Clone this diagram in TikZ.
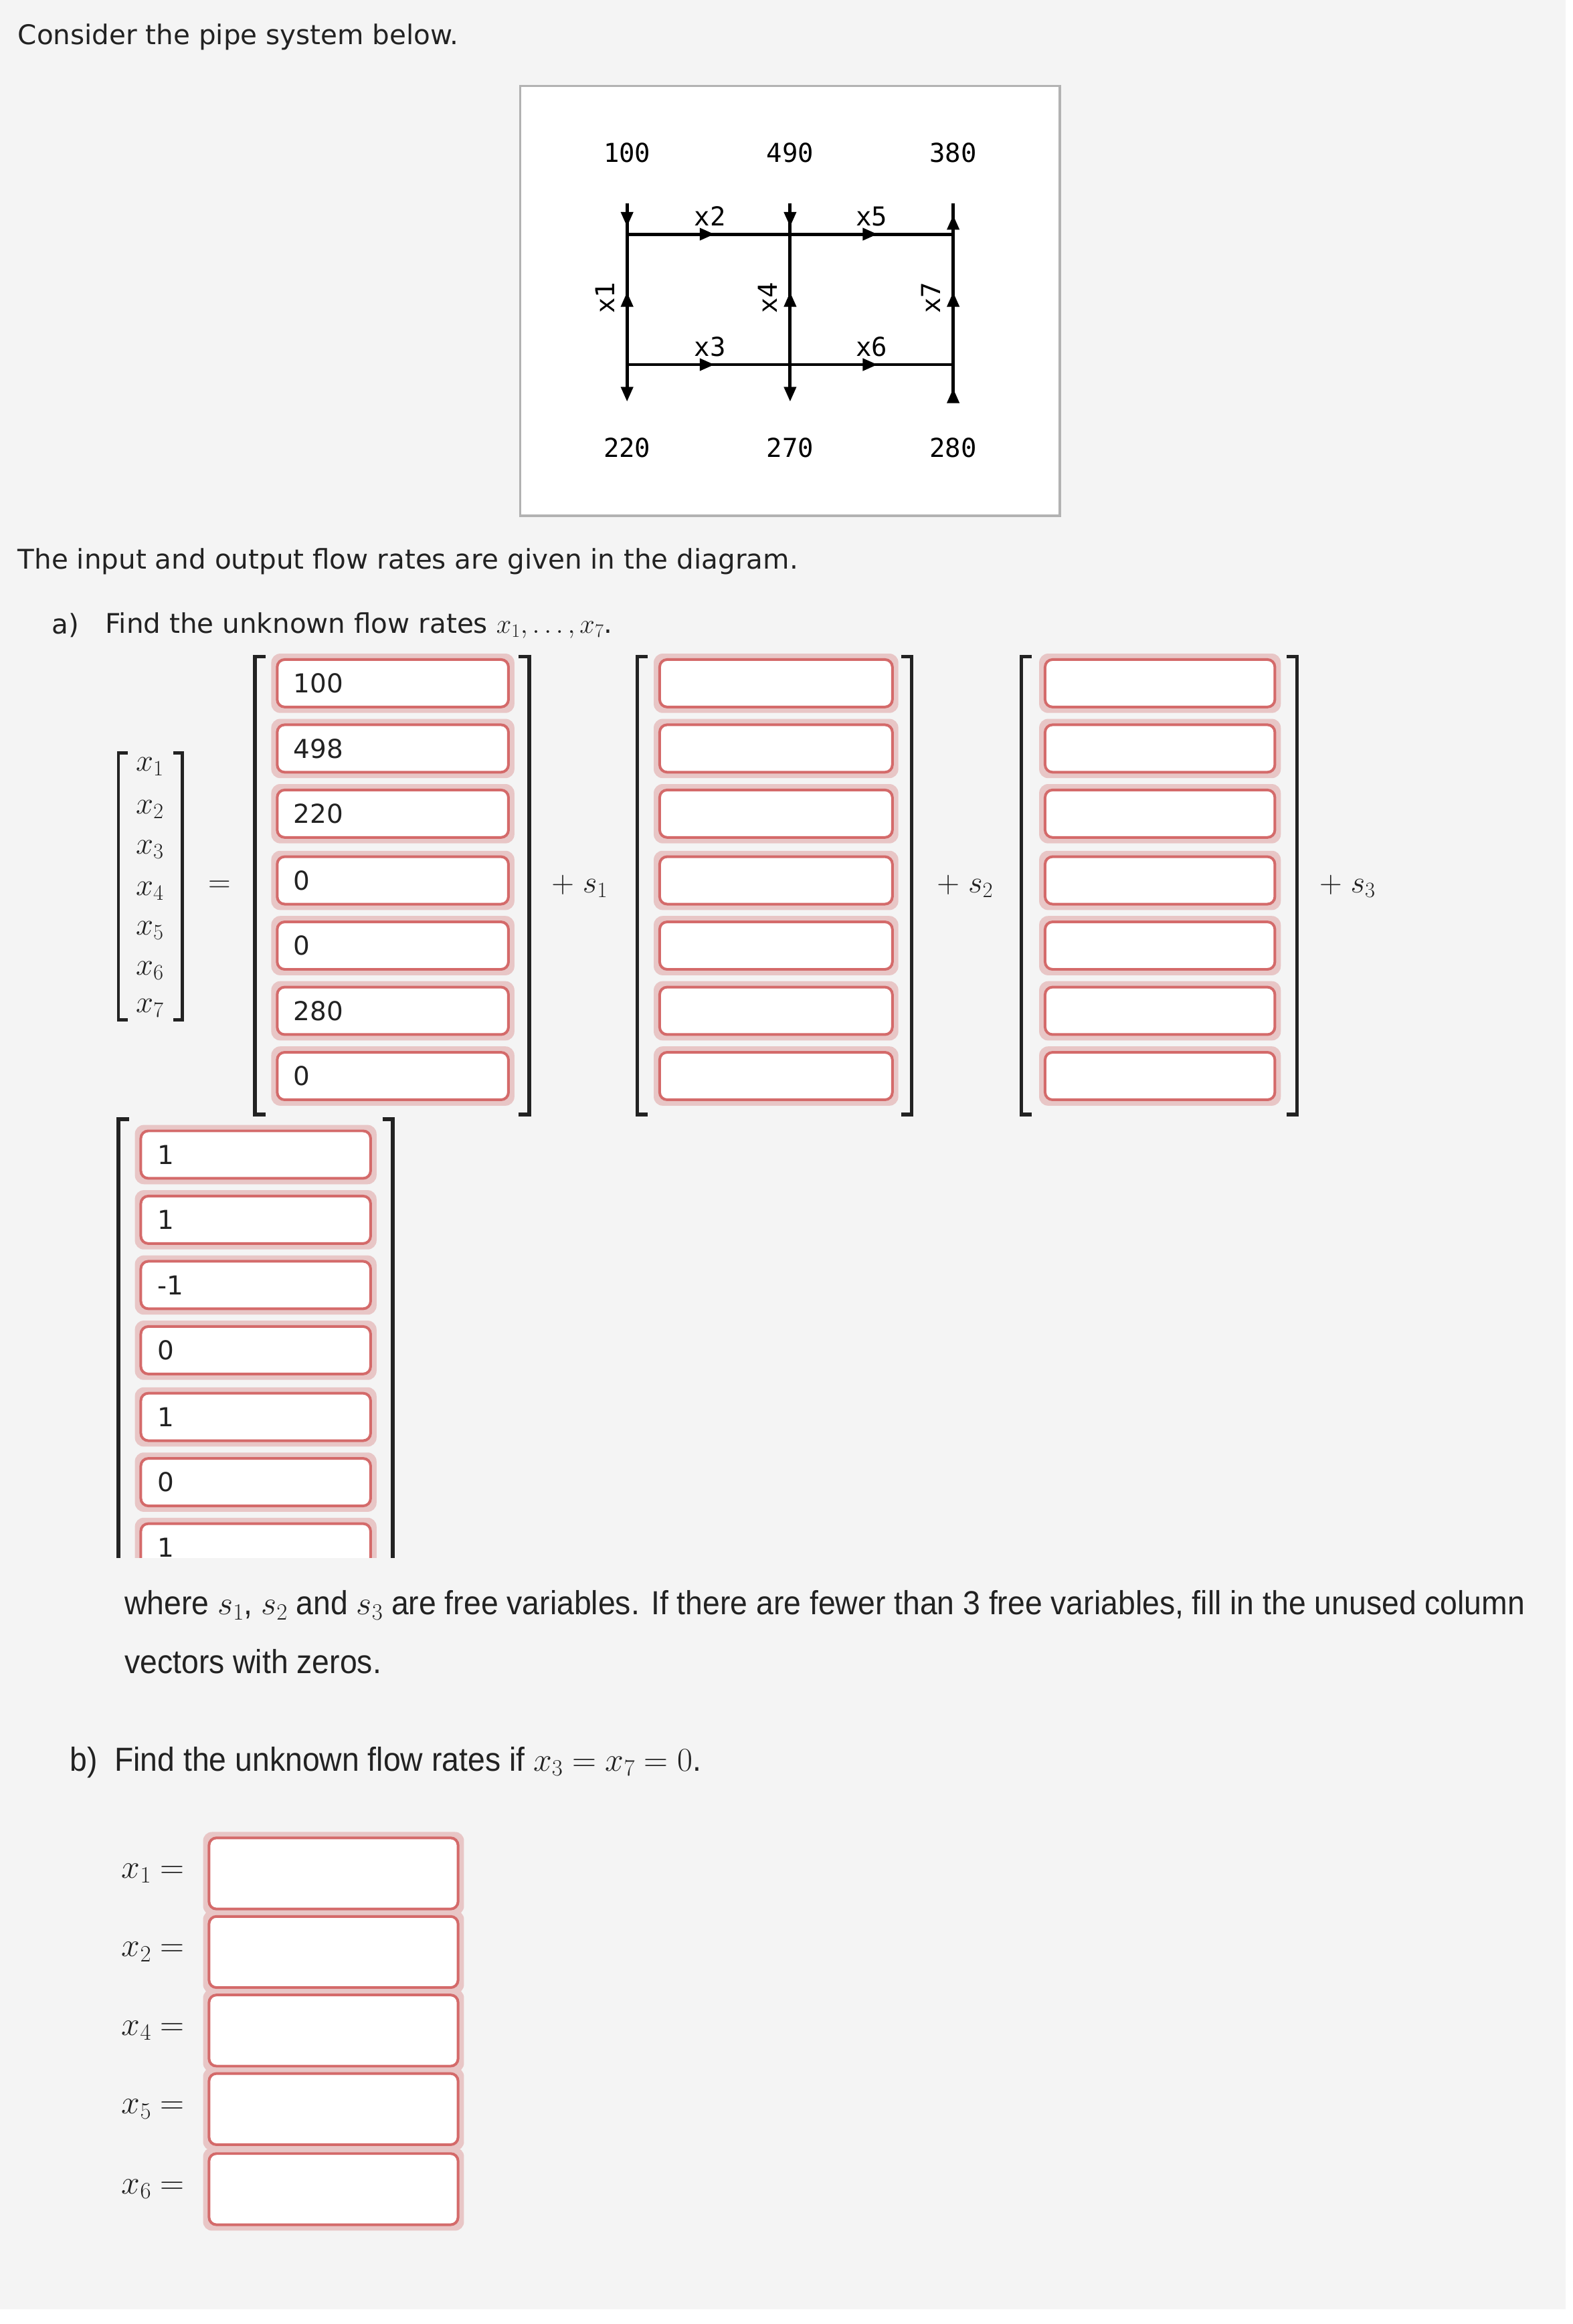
\RequirePackage{fix-cm}
\documentclass[tikz,border=0pt]{standalone}
\usepackage{fontspec}
\setmainfont{DejaVu Sans}
\newfontfamily\monof{DejaVu Sans Mono}
\newfontfamily\narrowf[FakeStretch=0.93]{Liberation Sans}
\usetikzlibrary{arrows.meta}
\definecolor{bg}{HTML}{F4F4F4}
\definecolor{glow}{HTML}{E8C6C6}
\definecolor{redb}{HTML}{D46A6A}
\definecolor{txt}{HTML}{222222}
\tikzset{
  pipe/.style={line width=0.22cm},
  ah/.style={-{Triangle[length=1cm,width=0.8cm]},line width=0.22cm},
  brk/.style={line width=0.25cm,color=txt},
  tx/.style={font=\fontsize{52}{60}\selectfont,text=txt,anchor=west,inner sep=0},
  mono/.style={font=\monof\fontsize{50}{58}\selectfont,inner sep=0},
  low/.style={font=\narrowf\fontsize{64}{76}\selectfont,text=txt,anchor=west,inner sep=0},
  valtx/.style={font=\fontsize{50}{58}\selectfont,text=txt,anchor=west,inner sep=0},
  mth/.style={font=\fontsize{60}{68}\selectfont,inner sep=0,text=txt},
}
\newcommand{\ansbox}[5]{% x1 x2 yc halfh text
  \fill[glow,rounded corners=0.6cm] (#1-4,#3-#4-4) rectangle (#2+4,#3+#4+4);
  \draw[redb,fill=white,line width=0.18cm,rounded corners=0.5cm] (#1,#3-#4) rectangle (#2,#3+#4);
  \node[valtx] at (#1+11,#3) {#5};
}
\begin{document}
\begin{tikzpicture}[x=0.1cm,y=-0.1cm]
\useasboundingbox (0,0) rectangle (1061,1568);
\fill[bg] (0,0) rectangle (1061,1568);
\fill[white] (1056,0) rectangle (1061,1568);
\fill[white] (0,1558) rectangle (1061,1568);
\node[tx] (t1) at (12,25) {Consider the pipe system below.};
% diagram
\draw[gray!60,fill=white,line width=0.15cm] (351,58) rectangle (715,348);
\foreach \x/\t/\b in {423/100/220,533/490/270,643/380/280}{
  \node[mono] at (\x,103) {\t};
  \node[mono] at (\x,302) {\b};
  \draw[pipe] (\x,137) -- (\x,268);
}
\draw[pipe] (423,158) -- (643,158);
\draw[pipe] (423,246) -- (643,246);
\foreach \x in {423,533}{
  \draw[ah] (\x,140) -- (\x,153);
  \draw[ah] (\x,255) -- (\x,271);
}
\draw[ah] (643,160) -- (643,145);
\draw[ah] (643,268) -- (643,262);
\foreach \x in {423,533,643}{ \draw[ah] (\x,212) -- (\x,197); }
\foreach \x in {478,588}{
  \draw[ah] (\x-12,158) -- (\x+4,158);
  \draw[ah] (\x-12,246) -- (\x+4,246);
}
\node[mono] at (479,146) {x2};
\node[mono] at (588,146) {x5};
\node[mono] at (479,234) {x3};
\node[mono] at (588,234) {x6};
\node[mono,rotate=90] at (408,201) {x1};
\node[mono,rotate=90] at (518,201) {x4};
\node[mono,rotate=90] at (628,201) {x7};
\node[tx] at (12,379) {The input and output flow rates are given in the diagram.};
\node[tx] at (35,422) {a)};
\node[tx] at (71,422) {Find the unknown flow rates $x_1,\ldots,x_7$.};
% lhs vector
\draw[line width=0.2cm,txt] (86,508) -- (80,508) -- (80,688) -- (86,688);
\draw[line width=0.2cm,txt] (117,508) -- (123,508) -- (123,688) -- (117,688);
\foreach \i/\y in {1/517,2/546,3/573,4/601,5/628,6/655,7/680}{
  \node[mth] at (101,\y) {$x_{\i}$};
}
\node[mth] at (148,598) {$=$};
% column vectors
\newcommand{\colvec}[5]{%
  \draw[brk] (#1+7,443) -- (#1,443) -- (#1,752) -- (#1+7,752);
  \draw[brk] (#2-7,443) -- (#2,443) -- (#2,752) -- (#2-7,752);
  \foreach \y/\v in {#5}{ \ansbox{#3}{#4}{\y}{16}{\v} }
}
\colvec{172}{357}{187}{343}{461/100,505/498,549/220,594/0,638/0,682/280,726/0}
\colvec{430}{615}{445}{602}{461/,505/,549/,594/,638/,682/,726/}
\colvec{689}{875}{705}{860}{461/,505/,549/,594/,638/,682/,726/}
\node[mth,anchor=west] at (372,598) {$+\;s_1$};
\node[mth,anchor=west] at (632,598) {$+\;s_2$};
\node[mth,anchor=west] at (890,598) {$+\;s_3$};
% fourth vector (clipped)
\begin{scope}
\clip (0,750) rectangle (1061,1051);
\draw[brk] (87,755) -- (80,755) -- (80,1080);
\draw[brk] (258,755) -- (265,755) -- (265,1080);
\foreach \y/\v in {779/1,823/1,867/-1,911/0,956/1,1000/0,1044/1}{ \ansbox{95}{250}{\y}{16}{\v} }
\end{scope}
\node[low] at (84,1083) {where $s_1$, $s_2$ and $s_3$ are free variables. If there are fewer than 3 free variables, fill in the unused column};
\node[low] at (84,1121) {vectors with zeros.};
\node[low] at (47,1189) {b)\ \ Find the unknown flow rates if $x_3=x_7=0$.};
\foreach \i/\y in {1/1264,2/1317,4/1370,5/1423,6/1477}{
  \node[low] at (82,\y) {$x_{\i}=$};
  \ansbox{141}{309}{\y}{24}{}
}
\end{tikzpicture}
\end{document}
